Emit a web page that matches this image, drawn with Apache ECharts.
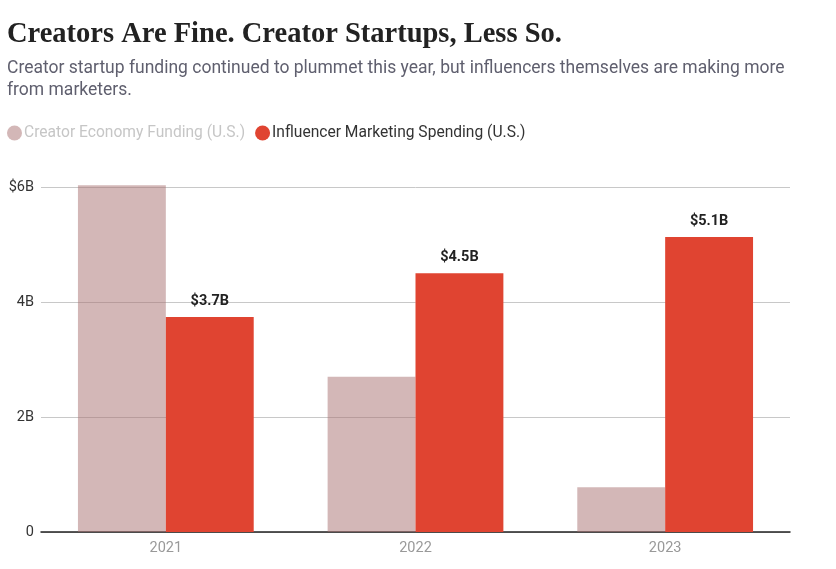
<!DOCTYPE html>
<html>
<head>
<meta charset="utf-8">
<script src="https://cdn.jsdelivr.net/npm/echarts@6/dist/echarts.min.js"></script>
<style>
html,body{margin:0;padding:0;background:#fff;}
#chart{width:836px;height:569px;}
</style>
</head>
<body>
<div id="chart"></div>
<script>
const years = ['2021', '2022', '2023'];
const creatorFunding = [6.03, 2.70, 0.78];
const influencerSpending = [3.74, 4.50, 5.13];
const seriesNames = ['Creator Economy Funding (U.S.)', 'Influencer Marketing Spending (U.S.)'];
const yTicks = [0, 2, 4, 6];

const chart = echarts.init(document.getElementById('chart'));
chart.setOption({
  animation: false,
  backgroundColor: '#fff',
  title: {
    text: 'Creators Are Fine. Creator Startups, Less So.',
    subtext: 'Creator startup funding continued to plummet this year, but influencers themselves are making more\nfrom marketers.',
    left: 7,
    top: 20,
    padding: 0,
    itemGap: 9,
    textStyle: { fontFamily: 'Liberation Serif', fontWeight: 'bold', fontSize: 28.5, color: '#222' },
    subtextStyle: { fontFamily: 'Roboto', fontSize: 17.5, color: '#5f5f6e', lineHeight: 22 }
  },
  legend: {
    left: 2,
    top: 120,
    icon: 'circle',
    itemWidth: 15,
    itemHeight: 15,
    itemGap: 10,
    textStyle: { fontFamily: 'Roboto', fontSize: 15.6, padding: [0, 0, 0, -3] },
    data: [
      { name: seriesNames[0], textStyle: { color: '#c6c6c6' } },
      { name: seriesNames[1], textStyle: { color: '#333' } }
    ]
  },
  grid: { left: 41, right: 46, top: 187, bottom: 37, containLabel: false },
  xAxis: {
    type: 'category',
    data: years,
    axisTick: { show: false },
    axisLine: { lineStyle: { color: '#222', width: 1.5 } },
    axisLabel: { color: '#999', fontFamily: 'Roboto', fontSize: 14.5, margin: 9 }
  },
  yAxis: {
    type: 'value',
    min: yTicks[0],
    max: yTicks[yTicks.length - 1],
    interval: 2,
    axisLine: { show: false },
    axisTick: { show: false },
    splitLine: { lineStyle: { color: '#c8c8c8', width: 1 } },
    axisLabel: {
      color: '#333', fontFamily: 'Roboto', fontSize: 14.5, margin: 7,
      formatter: function (v) {
        if (v === 0) return '0';
        if (v === yTicks[yTicks.length - 1]) return '$' + v + 'B';
        return v + 'B';
      }
    }
  },
  series: [
    {
      name: seriesNames[0],
      type: 'bar',
      data: creatorFunding,
      clip: false,
      barGap: '0%',
      barCategoryGap: '29.6%',
      itemStyle: { color: 'rgba(167,111,111,0.5)' }
    },
    {
      name: seriesNames[1],
      type: 'bar',
      data: influencerSpending,
      clip: false,
      barGap: '0%',
      barCategoryGap: '29.6%',
      itemStyle: { color: '#e04431' },
      label: {
        show: true,
        position: 'top',
        distance: 8,
        color: '#222',
        fontFamily: 'Roboto',
        fontWeight: 'bold',
        fontSize: 14.5,
        formatter: function (p) { return '$' + p.value.toFixed(1) + 'B'; }
      }
    }
  ]
});
</script>
</body>
</html>
